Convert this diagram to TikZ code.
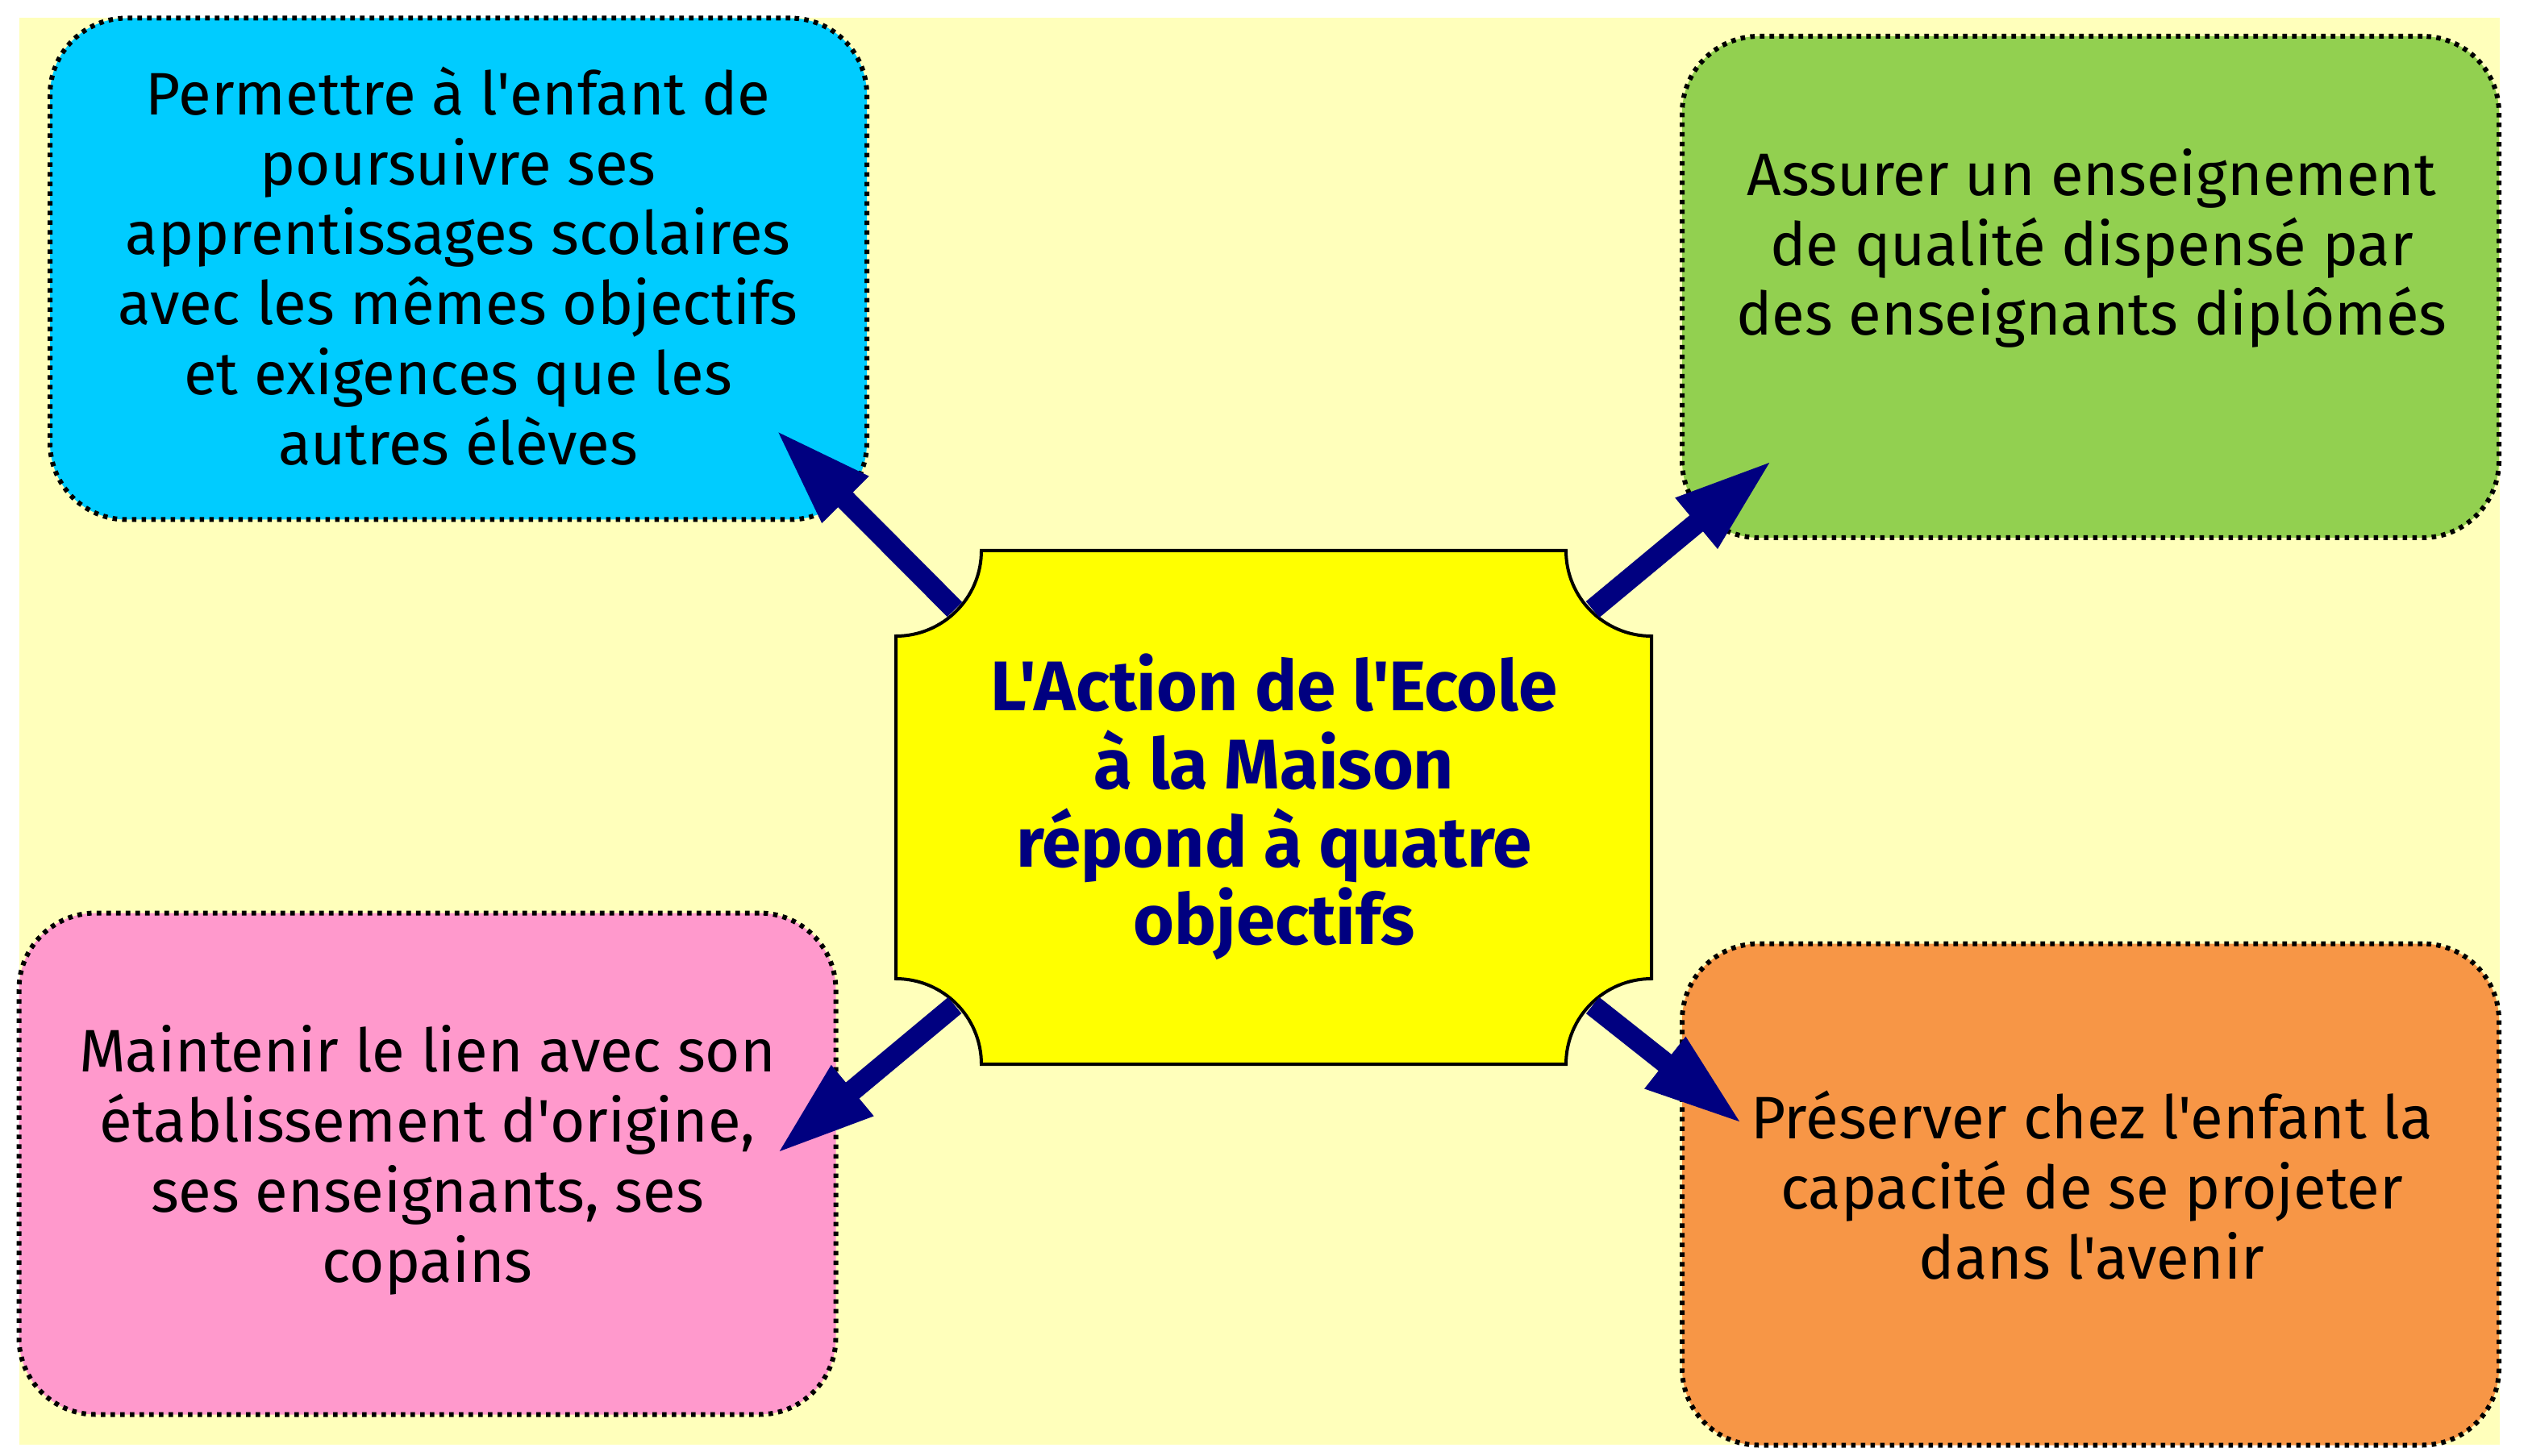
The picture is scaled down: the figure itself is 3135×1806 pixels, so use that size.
\documentclass[tikz,border=0pt]{standalone}
\usepackage{fontspec}
\setmainfont{Fira Sans}[Ligatures=TeXOff]
\usetikzlibrary{arrows.meta}
\definecolor{bgyellow}{RGB}{255,255,187}
\definecolor{boxblue}{RGB}{0,204,255}
\definecolor{boxgreen}{RGB}{146,208,80}
\definecolor{boxpink}{RGB}{255,153,204}
\definecolor{boxorange}{RGB}{247,150,70}
\definecolor{centeryellow}{RGB}{255,255,0}
\definecolor{navy}{RGB}{0,0,128}
\tikzset{
  objbox/.style={draw=black, line width=1.5pt, dash pattern=on 1.4pt off 1.6pt,
    rounded corners=23.75pt, minimum width=253.25pt, minimum height=155.5pt,
    inner sep=0pt},
  objtext/.style={align=center, inner sep=0pt,
    font=\fontsize{18.6}{21.7}\selectfont},
  centertext/.style={align=center, inner sep=0pt, text=navy,
    font=\fontsize{21.8}{24.2}\selectfont\bfseries},
  centershape/.style={draw=black, line width=1pt, fill=centeryellow},
  bigarrow/.style={draw=navy, line width=6.5pt,
    -{Triangle[length=31pt, width=18.5pt]}}
}
\begin{document}
\begin{tikzpicture}[x=0.25pt, y=-0.25pt]
\useasboundingbox (0,0) rectangle (3135,1806);
\fill[bgyellow] (24,22) rectangle (3100,1792);

% objective boxes
\node[objbox, fill=boxblue] (blue) at (568.5,333.5) {};
\node[objbox, fill=boxgreen] (green) at (2592.5,356) {};
\node[objbox, fill=boxpink] (pink) at (530,1443.5) {};
\node[objbox, fill=boxorange] (orange) at (2592.5,1481.5) {};

\node[objtext] (bluetxt) at (568,330) {Permettre à l'enfant de\\poursuivre ses\\apprentissages scolaires\\avec les mêmes objectifs\\et exigences que les\\autres élèves};
\node[objtext] (greentxt) at (2594,308) {Assurer un enseignement\\de qualité dispensé par\\des enseignants diplômés};
\node[objtext] (pinktxt) at (530,1439) {Maintenir le lien avec son\\établissement d'origine,\\ses enseignants, ses\\copains};
\node[objtext] (orangetxt) at (2594,1470) {Préserver chez l'enfant la\\capacité de se projeter\\dans l'avenir};

% central shape
\draw[centershape] (1217,683) -- (1942,683)
  arc[start angle=180, end angle=270, radius=26.5pt] -- (2048,1214)
  arc[start angle=90, end angle=180, radius=26.5pt] -- (1217,1320)
  arc[start angle=0, end angle=90, radius=26.5pt] -- (1111,789)
  arc[start angle=270, end angle=360, radius=26.5pt] -- cycle;
\node[centertext] (center) at (1580,1001) {L'Action de l'Ecole\\à la Maison\\répond à quatre\\objectifs};

% arrow ends
\coordinate (sTL) at (1184,756);
\coordinate (sTR) at (1975,756);
\coordinate (sBL) at (1184,1247);
\coordinate (sBR) at (1975,1247);
\coordinate (tTL) at (961,532);
\coordinate (tTR) at (2199,570);
\coordinate (tBL) at (962,1432);
\coordinate (tBR) at (2162,1395);

\draw[bigarrow] (sTL) -- (tTL);
\draw[bigarrow] (sTR) -- (tTR);
\draw[bigarrow] (sBL) -- (tBL);
\draw[bigarrow] (sBR) -- (tBR);
\end{tikzpicture}
\end{document}
